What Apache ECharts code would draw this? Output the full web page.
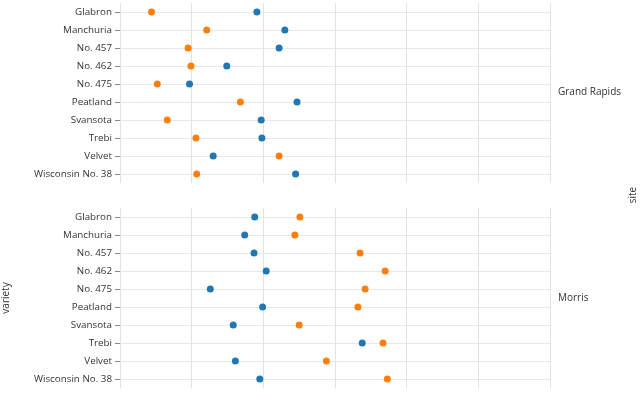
<!DOCTYPE html>
<html>
<head>
<meta charset="utf-8">
<script src="https://cdn.jsdelivr.net/npm/echarts@6/dist/echarts.min.js"></script>
<style>html,body{margin:0;padding:0;background:#fff}#c{width:640px;height:400px}</style>
</head>
<body>
<div id="c"></div>
<script>
const varieties = ['Glabron','Manchuria','No. 457','No. 462','No. 475','Peatland','Svansota','Trebi','Velvet','Wisconsin No. 38'];
const sites = ['Grand Rapids','Morris'];
const xTicks = [10,20,30,40,50,60,70];
// yields (bushels/acre)
const grandRapids1931 = [29.1,33.0,32.2,24.9,19.7,34.7,29.7,29.8,23.0,34.5];
const grandRapids1932 = [14.4,22.1,19.5,19.9,15.2,26.8,16.6,20.6,32.2,20.7];
const morris1931 = [28.8,27.4,28.7,30.4,22.6,29.9,25.8,43.8,26.1,29.5];
const morris1932 = [35.1,34.4,43.5,47.0,44.2,43.2,35.0,46.7,38.8,47.3];

const font = 'Open Sans';
const blue = '#1f77b4', orange = '#ff7f0e';
const panelTops = [3, 208];
const panelH = 180;

function pairs(vals){ return vals.map((v,i)=>[v, varieties[i]]); }

const grids = panelTops.map(t=>({left:120, width:430, top:t, height:panelH}));
const xAxes = grids.map((g,i)=>({
  type:'value', gridIndex:i, min:xTicks[0], max:xTicks[xTicks.length-1], interval:10,
  axisLine:{show:false}, axisTick:{show:false}, axisLabel:{show:false},
  splitLine:{show:true, lineStyle:{color:'#e2e2e2', width:1}}
}));
const yAxes = grids.map((g,i)=>({
  type:'category', gridIndex:i, data:varieties, inverse:true, boundaryGap:true,
  axisLine:{show:false},
  axisTick:{show:true, alignWithLabel:true, length:5, lineStyle:{color:'#888'}},
  axisLabel:{fontFamily:font, fontSize:9.8, color:'#333', margin:8},
  splitLine:{show:true, alignWithLabel:true, lineStyle:{color:'#e8e8e8', width:1}}
}));
const dot = (name, data, color, i) => ({
  name, type:'scatter', xAxisIndex:i, yAxisIndex:i, data:pairs(data),
  symbolSize:7, itemStyle:{color, opacity:1}, z:3
});
const option = {
  animation:false,
  grid:grids, xAxis:xAxes, yAxis:yAxes,
  series:[
    dot('1932', grandRapids1932, orange, 0),
    dot('1931', grandRapids1931, blue, 0),
    dot('1932', morris1932, orange, 1),
    dot('1931', morris1931, blue, 1)
  ],
  graphic:[
    {type:'text', x:558, y:92, style:{text:sites[0], font:'10px '+font, fill:'#333', verticalAlign:'middle'}},
    {type:'text', x:558, y:298, style:{text:sites[1], font:'10px '+font, fill:'#333', verticalAlign:'middle'}},
    {type:'text', x:6, y:298, rotation:Math.PI/2, style:{text:'variety', font:'10px '+font, fill:'#333', align:'center', verticalAlign:'middle'}},
    {type:'text', x:633, y:195, rotation:Math.PI/2, style:{text:'site', font:'10px '+font, fill:'#333', align:'center', verticalAlign:'middle'}}
  ]
};
echarts.init(document.getElementById('c'), null, {renderer:'canvas'}).setOption(option);
</script>
</body>
</html>
